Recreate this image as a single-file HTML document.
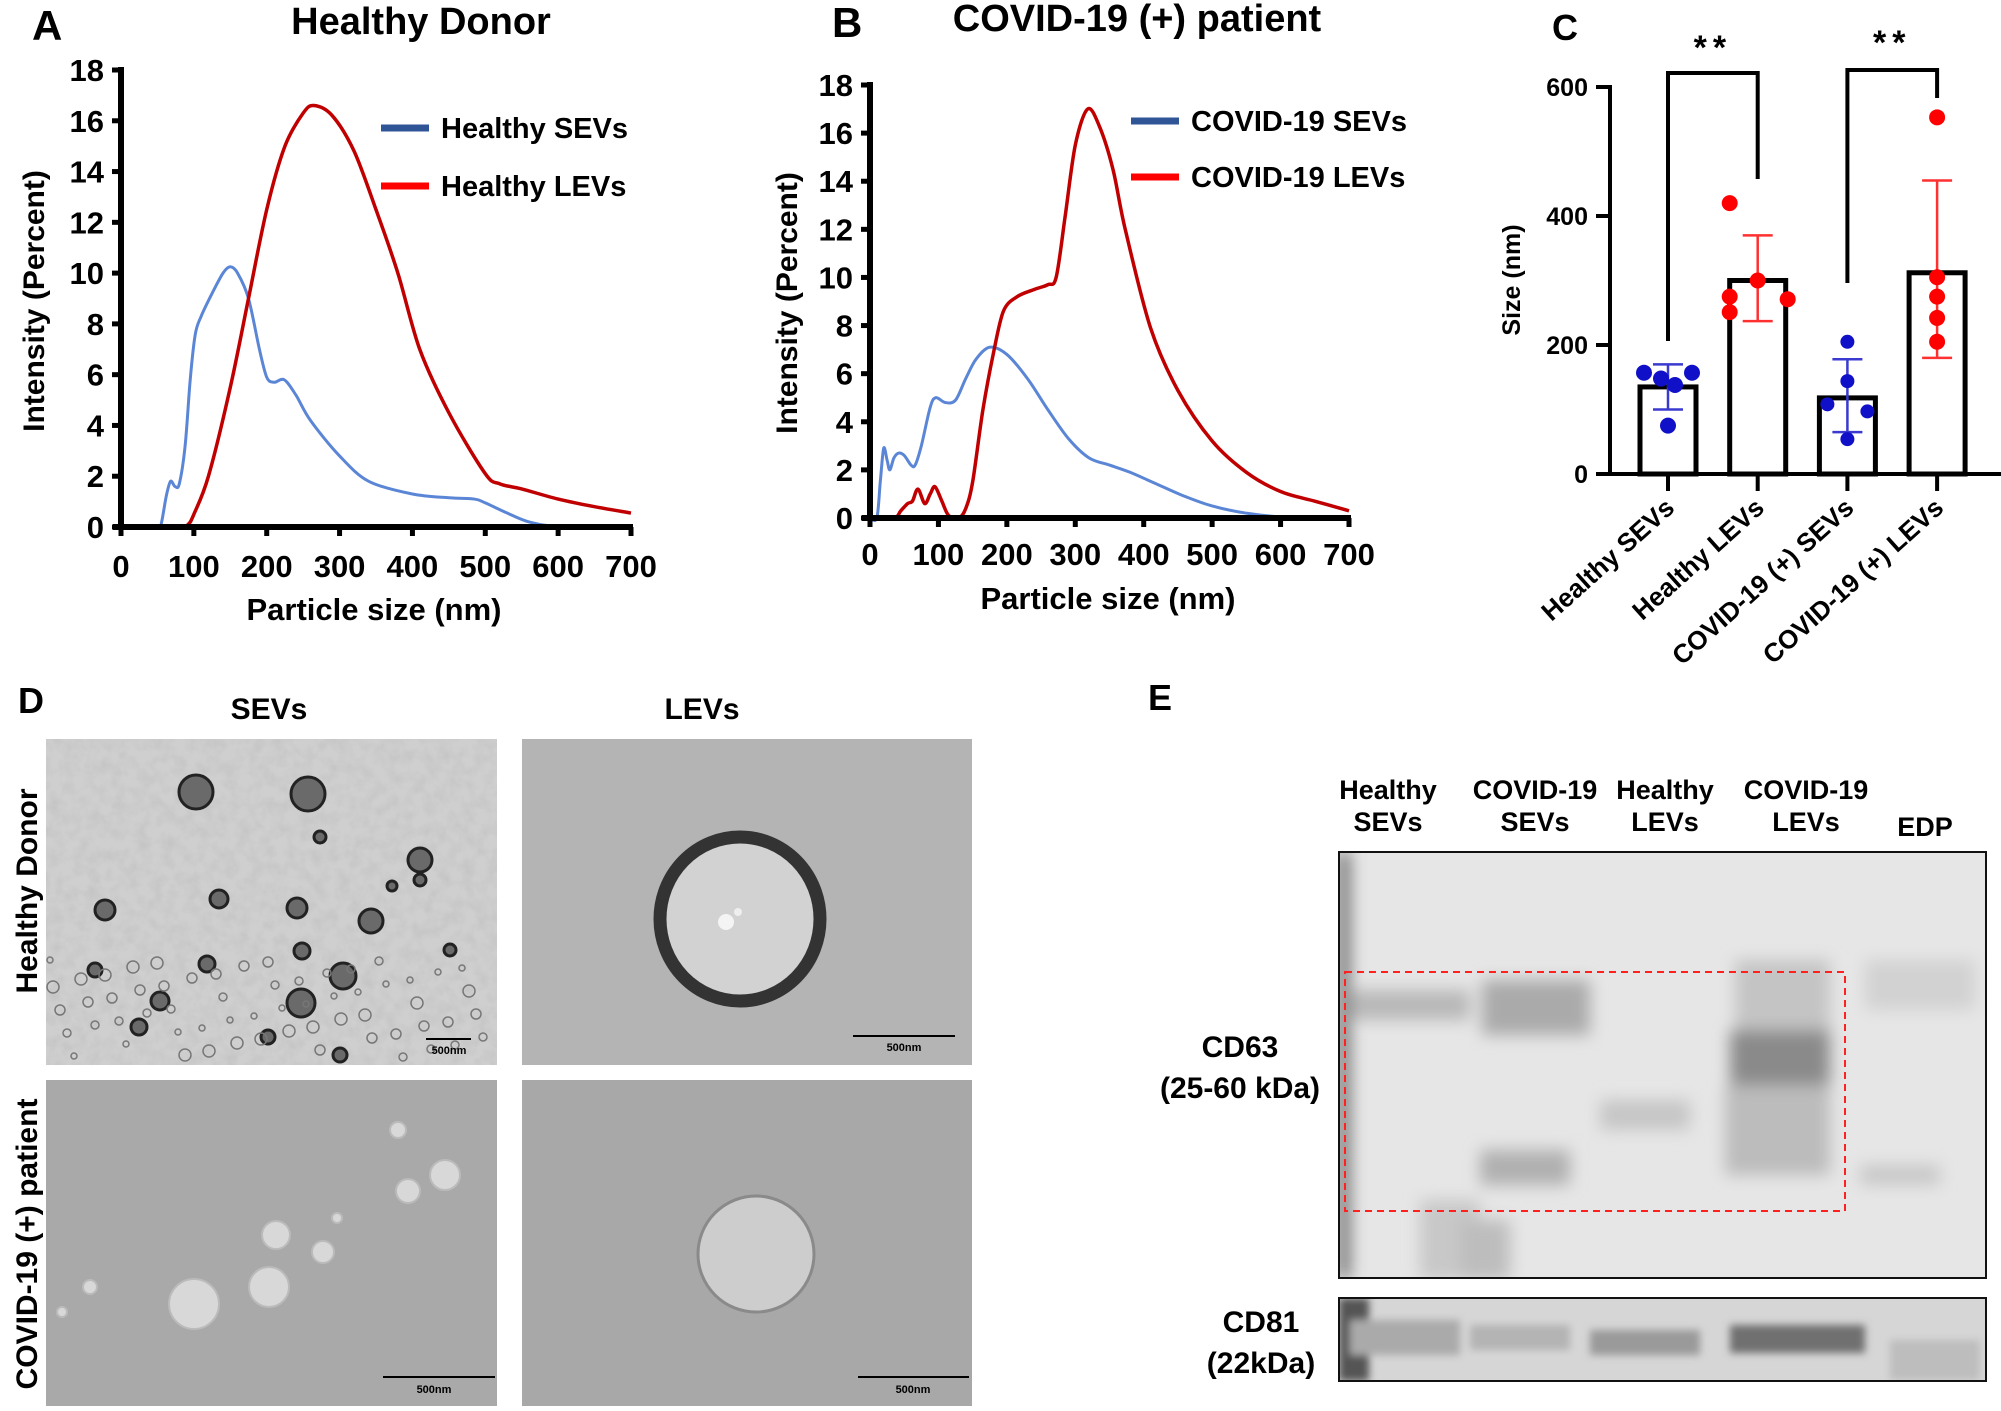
<!DOCTYPE html>
<html><head><meta charset="utf-8"><style>
html,body{margin:0;padding:0;background:#fff;}
svg{display:block;font-family:"Liberation Sans",Arial,sans-serif;font-weight:bold;}
</style></head><body>
<svg id="fig" width="2001" height="1411" viewBox="0 0 2001 1411" xmlns="http://www.w3.org/2000/svg">
<defs>
<filter id="noise1" x="0" y="0" width="100%" height="100%"><feTurbulence type="fractalNoise" baseFrequency="0.08" numOctaves="3" seed="3"/><feColorMatrix type="matrix" values="0 0 0 0 0.55  0 0 0 0 0.55  0 0 0 0 0.55  0 0 0 -1.6 1.05"/></filter>
<filter id="noise2" x="0" y="0" width="100%" height="100%"><feTurbulence type="fractalNoise" baseFrequency="0.02" numOctaves="2" seed="7"/><feColorMatrix type="matrix" values="0 0 0 0 0.4  0 0 0 0 0.4  0 0 0 0 0.4  0 0 0 -0.9 0.5"/></filter>
<filter id="blur4"><feGaussianBlur stdDeviation="4"/></filter>
<filter id="blur8"><feGaussianBlur stdDeviation="8"/></filter>
<filter id="blur2"><feGaussianBlur stdDeviation="1.5"/></filter>
<clipPath id="cTL"><rect x="46" y="739" width="451" height="326"/></clipPath>
<clipPath id="cTR"><rect x="522" y="739" width="450" height="326"/></clipPath>
<clipPath id="cBL"><rect x="46" y="1080" width="451" height="326"/></clipPath>
<clipPath id="cBR"><rect x="522" y="1080" width="450" height="326"/></clipPath>
<clipPath id="cB1"><rect x="1339" y="852" width="647" height="426"/></clipPath>
<clipPath id="cB2"><rect x="1339" y="1298" width="647" height="83"/></clipPath>
</defs>
<g id="root"></g>
</svg>
<script>
// ---------- Panel A data ----------
const aSevX = [0,50,55,62,68,74,80,88,95,102,110,125,140,150,160,175,190,200,210,224,240,260,300,340,400,450,485,500,530,560,600,700];
const aSevY = [0,0,0.1,1.2,1.8,1.6,1.7,3.2,5.8,7.6,8.3,9.2,10.0,10.25,10.0,9.0,7.0,5.9,5.7,5.8,5.2,4.2,2.8,1.8,1.3,1.15,1.1,0.95,0.55,0.2,0.03,0];
const aLevX = [0,80,92,100,120,150,175,200,225,250,265,290,320,350,380,410,450,500,520,550,600,650,700];
const aLevY = [0,0,0.1,0.5,2.0,5.5,9.0,12.5,15.0,16.3,16.6,16.2,14.8,12.5,10.0,7.0,4.5,2.1,1.7,1.5,1.1,0.8,0.55];
// ---------- Panel B data ----------
const bSevX = [0,10,15,20,25,29,35,42,50,60,66,75,88,96,110,125,140,155,175,200,230,260,290,320,350,380,420,460,500,550,600,700];
const bSevY = [0,0,1.5,2.9,2.4,2.0,2.5,2.7,2.6,2.2,2.2,3.0,4.6,5.0,4.8,4.9,5.8,6.6,7.1,6.8,5.8,4.5,3.3,2.5,2.2,1.9,1.4,0.9,0.5,0.2,0.05,0];
const bLevX = [0,35,45,55,62,70,80,88,95,105,115,130,140,150,165,180,195,215,240,260,272,285,300,318,335,355,373,410,450,500,550,600,650,700];
const bLevY = [0,0,0.3,0.6,0.7,1.2,0.6,1.0,1.3,0.7,0.1,0,0.4,1.5,4.5,6.8,8.6,9.2,9.5,9.7,10.0,12.5,15.5,17.0,16.3,14.5,12.0,7.9,5.3,3.2,1.9,1.1,0.7,0.3];
const xTicks = [0,100,200,300,400,500,600,700];
const yTicks = [0,2,4,6,8,10,12,14,16,18];
// ---------- Panel C data ----------
const cCats = ["Healthy SEVs","Healthy LEVs","COVID-19 (+) SEVs","COVID-19 (+) LEVs"];
const cMeans = [135,300,118,312];
const cErrLo = [100,237,65,180];
const cErrHi = [170,370,178,455];
const cPts = [[157,157,148,138,75],[420,300,275,271,251],[205,144,108,97,54],[553,305,275,242,205]];
const cTicks = [0,200,400,600];

const NS="http://www.w3.org/2000/svg";
const root=document.getElementById('root');
function el(tag,attrs,parent,txt){const e=document.createElementNS(NS,tag);for(const k in attrs)e.setAttribute(k,attrs[k]);if(txt!==undefined)e.textContent=txt;(parent||root).appendChild(e);return e;}
function smooth(pts){let d=`M${pts[0][0]},${pts[0][1]}`;for(let i=0;i<pts.length-1;i++){const p0=pts[i-1]||pts[i],p1=pts[i],p2=pts[i+1],p3=pts[i+2]||p2;const t=0.16;
const c1x=p1[0]+(p2[0]-p0[0])*t,c1y=p1[1]+(p2[1]-p0[1])*t,c2x=p2[0]-(p3[0]-p1[0])*t,c2y=p2[1]-(p3[1]-p1[1])*t;d+=` C${c1x.toFixed(1)},${c1y.toFixed(1)} ${c2x.toFixed(1)},${c2y.toFixed(1)} ${p2[0]},${p2[1]}`;}return d;}

function distPanel(o){
  const g=el('g',{});
  
  
  const sx=v=>o.x0+(v/700)*(o.x1-o.x0), sy=v=>o.y0-(v/18)*(o.y0-o.y18);
  // series
  const s1=el('path',{d:smooth(o.sevX.map((v,i)=>[sx(v),sy(o.sevY[i])])),fill:'none',stroke:'#5b86d6','stroke-width':3},g);
  
  
  const s2=el('path',{d:smooth(o.levX.map((v,i)=>[sx(v),sy(o.levY[i])])),fill:'none',stroke:'#c00000','stroke-width':3.5},g);
  
  
  // axes
  const ya=el('line',{x1:o.x0,y1:o.y18-3,x2:o.x0,y2:o.y0+3,stroke:'#000','stroke-width':6},g);
  
  
  const xa=el('line',{x1:o.x0-8,y1:o.y0,x2:o.x1+2,y2:o.y0,stroke:'#000','stroke-width':6},g);
  
  
  yTicks.forEach(v=>{el('line',{x1:o.x0-9,y1:sy(v),x2:o.x0,y2:sy(v),stroke:'#000','stroke-width':5},g);
    const t=el('text',{x:o.x0-17,y:sy(v)+11,'text-anchor':'end','font-size':31},g,String(v));
    
    });
  xTicks.forEach(v=>{el('line',{x1:sx(v),y1:o.y0,x2:sx(v),y2:o.y0+9,stroke:'#000','stroke-width':5},g);
    const t=el('text',{x:sx(v),y:o.tickY,'text-anchor':'middle','font-size':31},g,String(v));
    
    });
  const xl=el('text',{x:o.xlx,y:o.xly,'text-anchor':'middle','font-size':31},g,'Particle size (nm)');
  
  
  const yl=el('text',{x:0,y:0,'text-anchor':'middle','font-size':30,transform:`translate(${o.ylx},${o.yly}) rotate(-90)`},g,'Intensity (Percent)');
  
  
  const tt=el('text',{x:o.tx,y:o.ty,'text-anchor':'middle','font-size':38},g,o.title);
  
  
  const lt=el('text',{x:o.lx,y:o.ly,'font-size':42},g,o.letter);
  
  
  [[o.leg1,'#2f5597',o.legY1],[o.leg2,'#ff0000',o.legY2]].forEach(([lab,c,y])=>{
    const lg=el('g',{},g);
    
    
    el('line',{x1:o.legX,y1:y,x2:o.legX+48,y2:y,stroke:c,'stroke-width':7},lg);
    el('text',{x:o.legX+60,y:y+10,'font-size':29},lg,lab);
  });
}
distPanel({name:'panel-a-healthy-donor',x0:121,x1:631,y0:527,y18:70,sevX:aSevX,sevY:aSevY,levX:aLevX,levY:aLevY,tickY:577,xlx:374,xly:620,ylx:44,yly:301,title:'Healthy Donor',tx:421,ty:34,letter:'A',lx:32,ly:40,leg1:'Healthy SEVs',leg2:'Healthy LEVs',legX:381,legY1:128,legY2:186});
distPanel({name:'panel-b-covid-patient',x0:870,x1:1349,y0:518,y18:85,sevX:bSevX,sevY:bSevY,levX:bLevX,levY:bLevY,tickY:565,xlx:1108,xly:609,ylx:797,yly:303,title:'COVID-19 (+) patient',tx:1137,ty:31,letter:'B',lx:832,ly:37,leg1:'COVID-19 SEVs',leg2:'COVID-19 LEVs',legX:1131,legY1:121,legY2:177});

// ---------- Panel C ----------
(function(){
  const g=el('g',{});
  
  
  const ax=1610, y0=474, y600=87;
  const sy=v=>y0-(v/600)*(y0-y600);
  const cx=i=>1668+i*89.7;
  const offs=[[-24,24,-7,7,0],[-28,0,-28,30,-28],[0,0,-20,20,0],[0,0,0,0,0]];
  const fills=['#1010c8','#ff0000','#1010c8','#ff0000'];
  cCats.forEach((c,i)=>{
    const b=el('rect',{x:cx(i)-28,y:sy(cMeans[i]),width:56,height:y0-sy(cMeans[i]),fill:'#fff',stroke:'#000','stroke-width':5},g);
    
    
    const eg=el('g',{stroke:i%2?'#ff3030':'#3a3ad0','stroke-width':2.5},g);
    
    
    el('line',{x1:cx(i),y1:sy(cErrLo[i]),x2:cx(i),y2:sy(cErrHi[i])},eg);
    el('line',{x1:cx(i)-15,y1:sy(cErrLo[i]),x2:cx(i)+15,y2:sy(cErrLo[i])},eg);
    el('line',{x1:cx(i)-15,y1:sy(cErrHi[i]),x2:cx(i)+15,y2:sy(cErrHi[i])},eg);
    cPts[i].forEach((v,j)=>{const d=el('circle',{cx:cx(i)+offs[i][j],cy:sy(v),r:i==2?7:8,fill:fills[i]},g);
      
      });
    el('line',{x1:cx(i),y1:y0,x2:cx(i),y2:491,stroke:'#000','stroke-width':4},g);
    const t=el('text',{x:0,y:0,'text-anchor':'end','font-size':26,'font-weight':'bold',transform:`translate(${cx(i)+8},${510}) rotate(-42)`},g,c);
    
    
  });
  const ya=el('line',{x1:ax,y1:y600-2,x2:ax,y2:y0+2,stroke:'#000','stroke-width':4},g);
  
  
  const xa=el('line',{x1:ax-12,y1:y0,x2:2001,y2:y0,stroke:'#000','stroke-width':4},g);
  
  
  cTicks.forEach(v=>{el('line',{x1:ax-14,y1:sy(v),x2:ax,y2:sy(v),stroke:'#000','stroke-width':4},g);
    const t=el('text',{x:1588,y:sy(v)+9,'text-anchor':'end','font-size':25},g,String(v));
    
    });
  const yl=el('text',{x:0,y:0,'text-anchor':'middle','font-size':25,transform:'translate(1520,280) rotate(-90)'},g,'Size (nm)');
  
  
  const lt=el('text',{x:1552,y:40,'font-size':36},g,'C');
  
  
  [[0,1,73,341,179,47],[2,3,70,283,98,42]].forEach(([a,b,top,la,rb,sty])=>{
    const br=el('path',{d:`M${cx(a)},${la} V${top} H${cx(b)} V${rb}`,fill:'none',stroke:'#000','stroke-width':4},g);
    
    
    const s=el('text',{x:(cx(a)+cx(b))/2,y:sty+12,'text-anchor':'middle','font-size':34,'letter-spacing':6},g,'**');
    
    
  });
})();

// ---------- Panel D ----------
(function(){
  const g=el('g',{});
  
  
  const lt=el('text',{x:18,y:713,'font-size':36},g,'D');
  
  
  const h1=el('text',{x:269,y:719,'text-anchor':'middle','font-size':30},g,'SEVs');
  
  
  const h2=el('text',{x:702,y:719,'text-anchor':'middle','font-size':30},g,'LEVs');
  
  
  const r1=el('text',{x:0,y:0,'text-anchor':'middle','font-size':30,transform:'translate(37,891) rotate(-90)'},g,'Healthy Donor');
  
  
  const r2=el('text',{x:0,y:0,'text-anchor':'middle','font-size':30,transform:'translate(37,1244) rotate(-90)'},g,'COVID-19 (+) patient');
  
  
  // TL
  const tl=el('g',{'clip-path':'url(#cTL)'},g);
  
  
  el('rect',{x:46,y:739,width:451,height:326,fill:'#cfcfcf'},tl);
  el('rect',{x:46,y:739,width:451,height:326,filter:'url(#noise1)'},tl);
  const big=[[196,792,17],[308,794,17],[420,860,12],[371,921,12],[297,908,10],[343,976,13],[301,1003,14],[302,951,8],[420,880,6],[105,910,10],[139,1027,8],[219,899,9],[207,964,8],[268,1037,7],[320,837,6],[392,886,5],[340,1055,7],[160,1001,9],[450,950,6],[95,970,7]];
  big.forEach(c=>el('circle',{cx:c[0],cy:c[1],r:c[2],fill:'#6a6a6a',stroke:'#222','stroke-width':3},tl));
  for(let i=0;i<60;i++){const x=50+((i*97)%440),y=960+((i*53)%100);el('circle',{cx:x,cy:y,r:3+(i%4),fill:'none',stroke:'#777','stroke-width':1.5},tl);}
  el('line',{x1:426,y1:1039,x2:471,y2:1039,stroke:'#000','stroke-width':2},tl);
  el('text',{x:449,y:1054,'text-anchor':'middle','font-size':11},tl,'500nm');
  // TR
  const tr=el('g',{'clip-path':'url(#cTR)'},g);
  
  
  el('rect',{x:522,y:739,width:450,height:326,fill:'#b4b4b4'},tr);
  el('ellipse',{cx:740,cy:919,rx:80,ry:82,fill:'#d2d2d2',stroke:'#333','stroke-width':13},tr);
  el('circle',{cx:726,cy:922,r:8,fill:'#f4f4f4'},tr);
  el('circle',{cx:738,cy:912,r:4,fill:'#eee'},tr);
  el('line',{x1:853,y1:1036,x2:955,y2:1036,stroke:'#000','stroke-width':2},tr);
  el('text',{x:904,y:1051,'text-anchor':'middle','font-size':11},tr,'500nm');
  // BL
  const bl=el('g',{'clip-path':'url(#cBL)'},g);
  
  
  el('rect',{x:46,y:1080,width:451,height:326,fill:'#a9a9a9'},bl);
  el('rect',{x:46,y:1080,width:451,height:326,filter:'url(#noise2)'},bl);
  [[194,1304,25],[269,1287,20],[276,1235,14],[445,1175,15],[408,1191,12],[323,1252,11],[398,1130,8],[90,1287,7],[337,1218,5],[62,1312,5]].forEach(c=>el('circle',{cx:c[0],cy:c[1],r:c[2],fill:'#d8d8d8',stroke:'#bbb','stroke-width':2},bl));
  el('line',{x1:383,y1:1377,x2:495,y2:1377,stroke:'#000','stroke-width':2},bl);
  el('text',{x:434,y:1393,'text-anchor':'middle','font-size':11},bl,'500nm');
  // BR
  const br=el('g',{'clip-path':'url(#cBR)'},g);
  
  
  el('rect',{x:522,y:1080,width:450,height:326,fill:'#a8a8a8'},br);
  el('circle',{cx:756,cy:1254,r:58,fill:'#cdcdcd',stroke:'#8a8a8a','stroke-width':3},br);
  el('line',{x1:858,y1:1377,x2:969,y2:1377,stroke:'#000','stroke-width':2},br);
  el('text',{x:913,y:1393,'text-anchor':'middle','font-size':11},br,'500nm');
})();

// ---------- Panel E ----------
(function(){
  const g=el('g',{});
  
  
  const lt=el('text',{x:1148,y:710,'font-size':36},g,'E');
  
  
  const lanes=[[1388,'Healthy','SEVs'],[1535,'COVID-19','SEVs'],[1665,'Healthy','LEVs'],[1806,'COVID-19','LEVs']];
  lanes.forEach(l=>{const t=el('text',{x:l[0],'text-anchor':'middle','font-size':27},g);
    
    
    el('tspan',{x:l[0],y:799},t,l[1]);el('tspan',{x:l[0],y:831},t,l[2]);});
  const ed=el('text',{x:1925,y:836,'text-anchor':'middle','font-size':27},g,'EDP');
  
  
  const cd63=el('text',{x:1240,'text-anchor':'middle','font-size':30},g);
  
  
  el('tspan',{x:1240,y:1057},cd63,'CD63');el('tspan',{x:1240,y:1098},cd63,'(25-60 kDa)');
  const cd81=el('text',{x:1261,'text-anchor':'middle','font-size':30},g);
  
  
  el('tspan',{x:1261,y:1332},cd81,'CD81');el('tspan',{x:1261,y:1373},cd81,'(22kDa)');
  // blot 1
  const b1=el('g',{'clip-path':'url(#cB1)'},g);
  
  
  el('rect',{x:1339,y:852,width:647,height:426,fill:'#e6e6e6'},b1);
  const g1=el('g',{filter:'url(#blur8)'},b1);
  [[1345,990,125,30,'#b8b8b8'],[1482,980,108,55,'#aaaaaa'],[1480,1150,90,35,'#b0b0b0'],[1600,1100,90,30,'#c6c6c6'],[1730,1030,100,55,'#8a8a8a'],[1735,960,95,70,'#c4c4c4'],[1725,1085,105,90,'#bcbcbc'],[1860,1165,80,20,'#c8c8c8'],[1865,960,110,50,'#d2d2d2'],[1339,852,10,426,'#555'],[1420,1200,60,80,'#c8c8c8'],[1460,1220,50,60,'#bdbdbd']].forEach(r=>el('rect',{x:r[0],y:r[1],width:r[2],height:r[3],fill:r[4]},g1));
  el('rect',{x:1345,y:972,width:500,height:239,fill:'none',stroke:'#ff2020','stroke-width':2,'stroke-dasharray':'7,5'},b1);
  el('rect',{x:1339,y:852,width:647,height:426,fill:'none',stroke:'#111','stroke-width':2},g);
  // blot 2
  const b2=el('g',{'clip-path':'url(#cB2)'},g);
  
  
  el('rect',{x:1339,y:1298,width:647,height:83,fill:'#d6d6d6'},b2);
  const g2=el('g',{filter:'url(#blur4)'},b2);
  [[1339,1298,30,83,'#555'],[1350,1320,110,35,'#aaa'],[1470,1325,100,25,'#b4b4b4'],[1590,1330,110,25,'#9a9a9a'],[1730,1325,135,28,'#707070'],[1890,1340,90,40,'#bdbdbd']].forEach(r=>el('rect',{x:r[0],y:r[1],width:r[2],height:r[3],fill:r[4]},g2));
  el('rect',{x:1339,y:1298,width:647,height:83,fill:'none',stroke:'#111','stroke-width':2},g);
})();
</script>
</body></html>
